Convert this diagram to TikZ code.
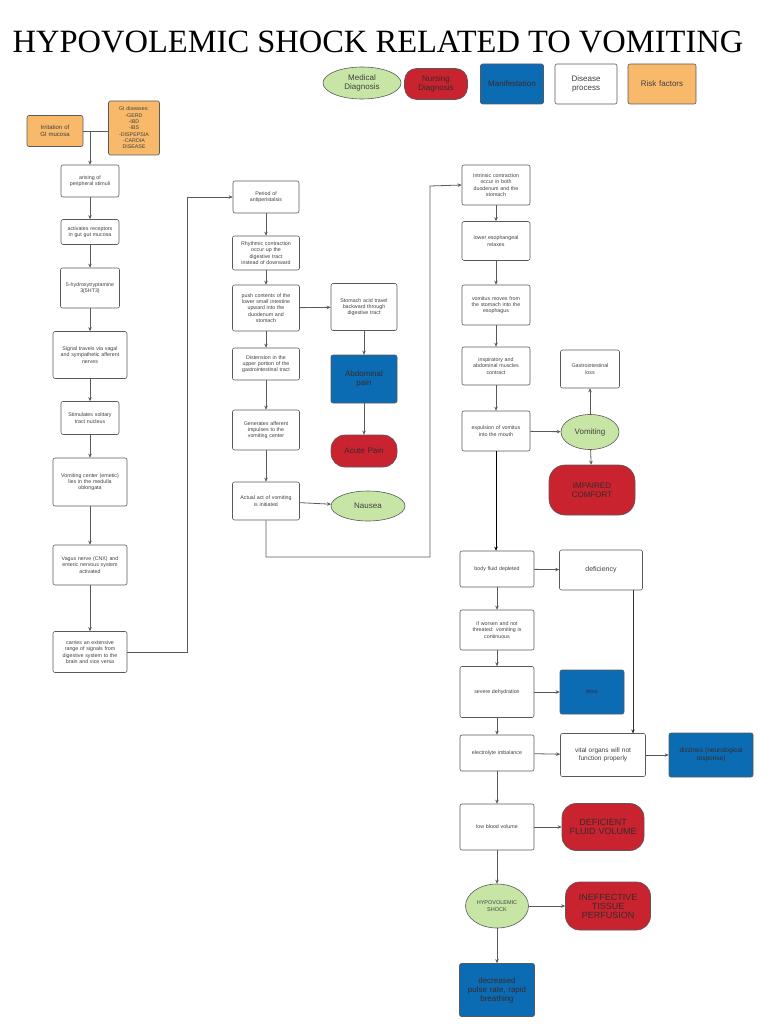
\documentclass[tikz,border=0pt]{standalone}
\usepackage{fontspec}
\setmainfont{Liberation Sans}
\newfontfamily\titlefont{Liberation Serif}
\usetikzlibrary{arrows.meta,shapes.geometric}
\definecolor{orng}{HTML}{F8B96A}
\definecolor{rd}{HTML}{C8232F}
\definecolor{bl}{HTML}{0B6BB3}
\definecolor{grn}{HTML}{C7E6A6}
\definecolor{ln}{HTML}{5A5A5A}
\definecolor{dtx}{HTML}{3A2A2A}
\tikzset{
  sz/.style 2 args={minimum width=#1pt, minimum height=#2pt, text width=#1pt},
  box/.style={draw=ln, line width=0.6pt, rounded corners=2pt, fill=white, align=center, inner xsep=0.5pt, inner ysep=0pt, font=\fontsize{5.3}{6.3}\selectfont, text=black!75},
  risk/.style={box, fill=orng},
  mani/.style={box, fill=bl, font=\fontsize{8}{9}\selectfont, text=dtx},
  nurse/.style={box, fill=rd, rounded corners=12pt, font=\fontsize{8}{9}\selectfont, text=dtx},
  med/.style={draw=ln, line width=0.6pt, ellipse, fill=grn, align=center, inner sep=0pt, font=\fontsize{8}{9}\selectfont, text=black!75},
  ar/.style={draw=ln, line width=0.8pt, -{Stealth[length=4pt,width=3.5pt]}},
  pl/.style={draw=ln, line width=0.8pt}
}
\begin{document}
\begin{tikzpicture}[x=1pt,y=-1pt]
\useasboundingbox (0,0) rectangle (768,1024);
\node[font=\titlefont\fontsize{32.5}{34}\selectfont, inner sep=0pt] (title) at (378,42) {HYPOVOLEMIC SHOCK RELATED TO VOMITING};
% legend
\node[med, minimum width=78pt, minimum height=32pt] (lg1) at (362,83) {Medical\\Diagnosis};
\node[nurse, sz={62}{31}] (lg2) at (436,84) {Nursing\\Diagnosis};
\node[mani, sz={62}{40}] (lg3) at (512,84) {Manifestation};
\node[box, sz={61}{40}, font=\fontsize{8}{9}\selectfont] (lg4) at (586,84) {Disease\\process};
\node[risk, sz={67}{40}, font=\fontsize{8}{9}\selectfont] (lg5) at (662,84) {Risk factors};
% column 1
\node[risk, sz={55}{31}, font=\fontsize{6}{7}\selectfont] (irr) at (55,131) {Irritation of\\GI mucosa};
\node[risk, sz={50}{54}] (gid) at (134,128) {GI diseases:\\-GERD\\-IBD\\-IBS\\-DISPEPSIA\\-CARDIA\\DISEASE};
\coordinate (j) at (90,131);
\node[box, sz={57}{32}] (a1) at (90,181) {arising of\\peripheral stimuli};
\node[box, sz={57}{25}] (a2) at (90,232) {activates receptors\\in gut gut mucosa};
\node[box, sz={58}{40}] (a3) at (90,288) {5-hydroxytryptamine\\3(5HT3)};
\node[box, sz={73}{47}] (a4) at (90,355) {Signal travels via vagal\\and sympathetic afferent\\nerves};
\node[box, sz={57}{33}] (a5) at (90,418) {Stimulates solitary\\tract nucleus};
\node[box, sz={73}{48}] (a6) at (90,482) {Vomiting center (emetic)\\lies in the medulla\\oblongata};
\node[box, sz={73}{40}] (a7) at (90,565) {Vagus nerve (CNX) and\\enteric nervous system\\activated};
\node[box, sz={73}{41}] (a8) at (90,652) {carries an extensive\\range of signals from\\digestive system to the\\brain and vice versa};
\draw[pl] (irr.east) -- (j);
\draw[pl] (gid.west |- j) -- (j);
\draw[ar] (j) -- (a1);
\foreach \p/\q in {a1/a2,a2/a3,a3/a4,a4/a5,a5/a6,a6/a7,a7/a8} \draw[ar] (\p) -- (\q);
% column 2
\node[box, sz={65}{32}] (b1) at (266,197) {Period of\\antiperistalsis};
\node[box, sz={66}{34}] (b2) at (266,253) {Rhythmic contraction\\occur up the\\digestive tract\\instead of downward};
\node[box, sz={66}{46}] (b3) at (266,308) {push contents of the\\lower small intestine\\upward into the\\duodenum and\\stomach};
\node[box, sz={66}{32}] (b4) at (266,364) {Distension in the\\upper portion of the\\gastrointestinal tract};
\node[box, sz={66}{40}] (b5) at (266,430) {Generates afferent\\impulses to the\\vomiting center};
\node[box, sz={66}{38}] (b6) at (266,501) {Actual act of vomiting\\is initiated};
\node[box, sz={65}{47}] (c1) at (364,307) {Stomach acid travel\\backward through\\digestive tract};
\node[mani, sz={65}{48}] (c2) at (364,379) {Abdominal\\pain};
\node[nurse, sz={65}{32}, rounded corners=14pt] (c3) at (364,451) {Acute Pain};
\node[med, minimum width=74pt, minimum height=30pt] (c4) at (368,506) {Nausea};
\draw[ar] (a8.east) -- (187,652) -- (187,197) -- (b1.west);
\foreach \p/\q in {b1/b2,b2/b3,b3/b4,b4/b5,b5/b6,c1/c2,c2/c3} \draw[ar] (\p) -- (\q);
\draw[ar] (b3) -- (c1);
\draw[ar] (b6) -- (c4);
% column 3
\node[box, sz={67}{40}] (d1) at (496,185) {Intrinsic contraction\\occur in both\\duodenum and the\\stomach};
\node[box, sz={67}{39}] (d2) at (496,241) {lower esophangeal\\relaxes};
\node[box, sz={67}{40}] (d3) at (496,305) {vomitus moves from\\the stomach into the\\esophagus};
\node[box, sz={67}{38}] (d4) at (496,366) {inspiratory and\\abdominal muscles\\contract};
\node[box, sz={67}{40}] (d5) at (496,431) {expulsion of vomitus\\into the mouth};
\node[med, minimum width=58pt, minimum height=35pt] (v) at (590,432) {Vomiting};
\node[box, sz={58}{38}] (gl) at (590,369) {Gastrointestinal\\loss};
\node[nurse, sz={85}{50}, rounded corners=16pt] (ic) at (592,490) {IMPAIRED\\COMFORT};
\draw[ar] (b6.south) -- (266,557) -- (430,557) -- (430,186) -- (d1.west);
\foreach \p/\q in {d1/d2,d2/d3,d3/d4,d4/d5} \draw[ar] (\p) -- (\q);
\draw[ar] (d5) -- (v);
\draw[ar] (v) -- (gl);
\draw[ar] (v) -- (ic);
% lower
\node[box, sz={73}{36}] (e1) at (497,569) {body fluid depleted};
\node[box, sz={82}{40}, font=\fontsize{7}{8}\selectfont] (f1) at (601,570) {deficiency};
\node[box, sz={73}{40}] (e2) at (497,630) {if worsen and not\\threated: vomiting is\\continuous};
\node[box, sz={73}{51}] (e3) at (497,692) {severe dehydration};
\node[mani, sz={63}{44}, font=\fontsize{5.3}{6}\selectfont] (f2) at (592,692) {thirst};
\node[box, sz={73}{36}] (e4) at (497,753) {electrolyte imbalance};
\node[box, sz={84}{43}, font=\fontsize{6.5}{8}\selectfont] (f3) at (603,755) {vital organs will not\\function properly};
\node[mani, sz={83}{44}, font=\fontsize{6.5}{8}\selectfont] (f4) at (711,755) {dizzines (neurological\\response)};
\node[box, sz={73}{46}] (e5) at (497,827) {low blood volume};
\node[nurse, sz={81}{47}, rounded corners=14pt, font=\fontsize{9}{9}\selectfont] (f5) at (603,827) {DEFICIENT\\FLUID VOLUME};
\node[med, minimum width=63pt, minimum height=44pt, font=\fontsize{5.5}{6.5}\selectfont] (e6) at (497,906) {HYPOVOLEMIC\\SHOCK};
\node[nurse, sz={84}{48}, rounded corners=14pt, font=\fontsize{9}{9}\selectfont] (f6) at (608,906) {INEFFECTIVE\\TISSUE\\PERFUSION};
\node[mani, sz={74}{53}, font=\fontsize{8}{9}\selectfont] (e7) at (497,990) {decreased\\pulse rate, rapid\\breathing};
\draw[line width=0.9pt, draw=black, -{Stealth[length=4pt,width=3.5pt]}] (d5.south) -- (d5.south |- e1.north);
\foreach \p/\q in {e1/e2,e2/e3,e3/e4,e4/e5,e5/e6,e6/e7,e1/f1,e3/f2,e4/f3,f3/f4,e5/f5,e6/f6} \draw[ar] (\p) -- (\q);
\draw[line width=0.8pt, draw=black!80, -{Stealth[length=4pt,width=3.5pt]}] (633,590) -- (633,733.5);
\end{tikzpicture}
\end{document}
